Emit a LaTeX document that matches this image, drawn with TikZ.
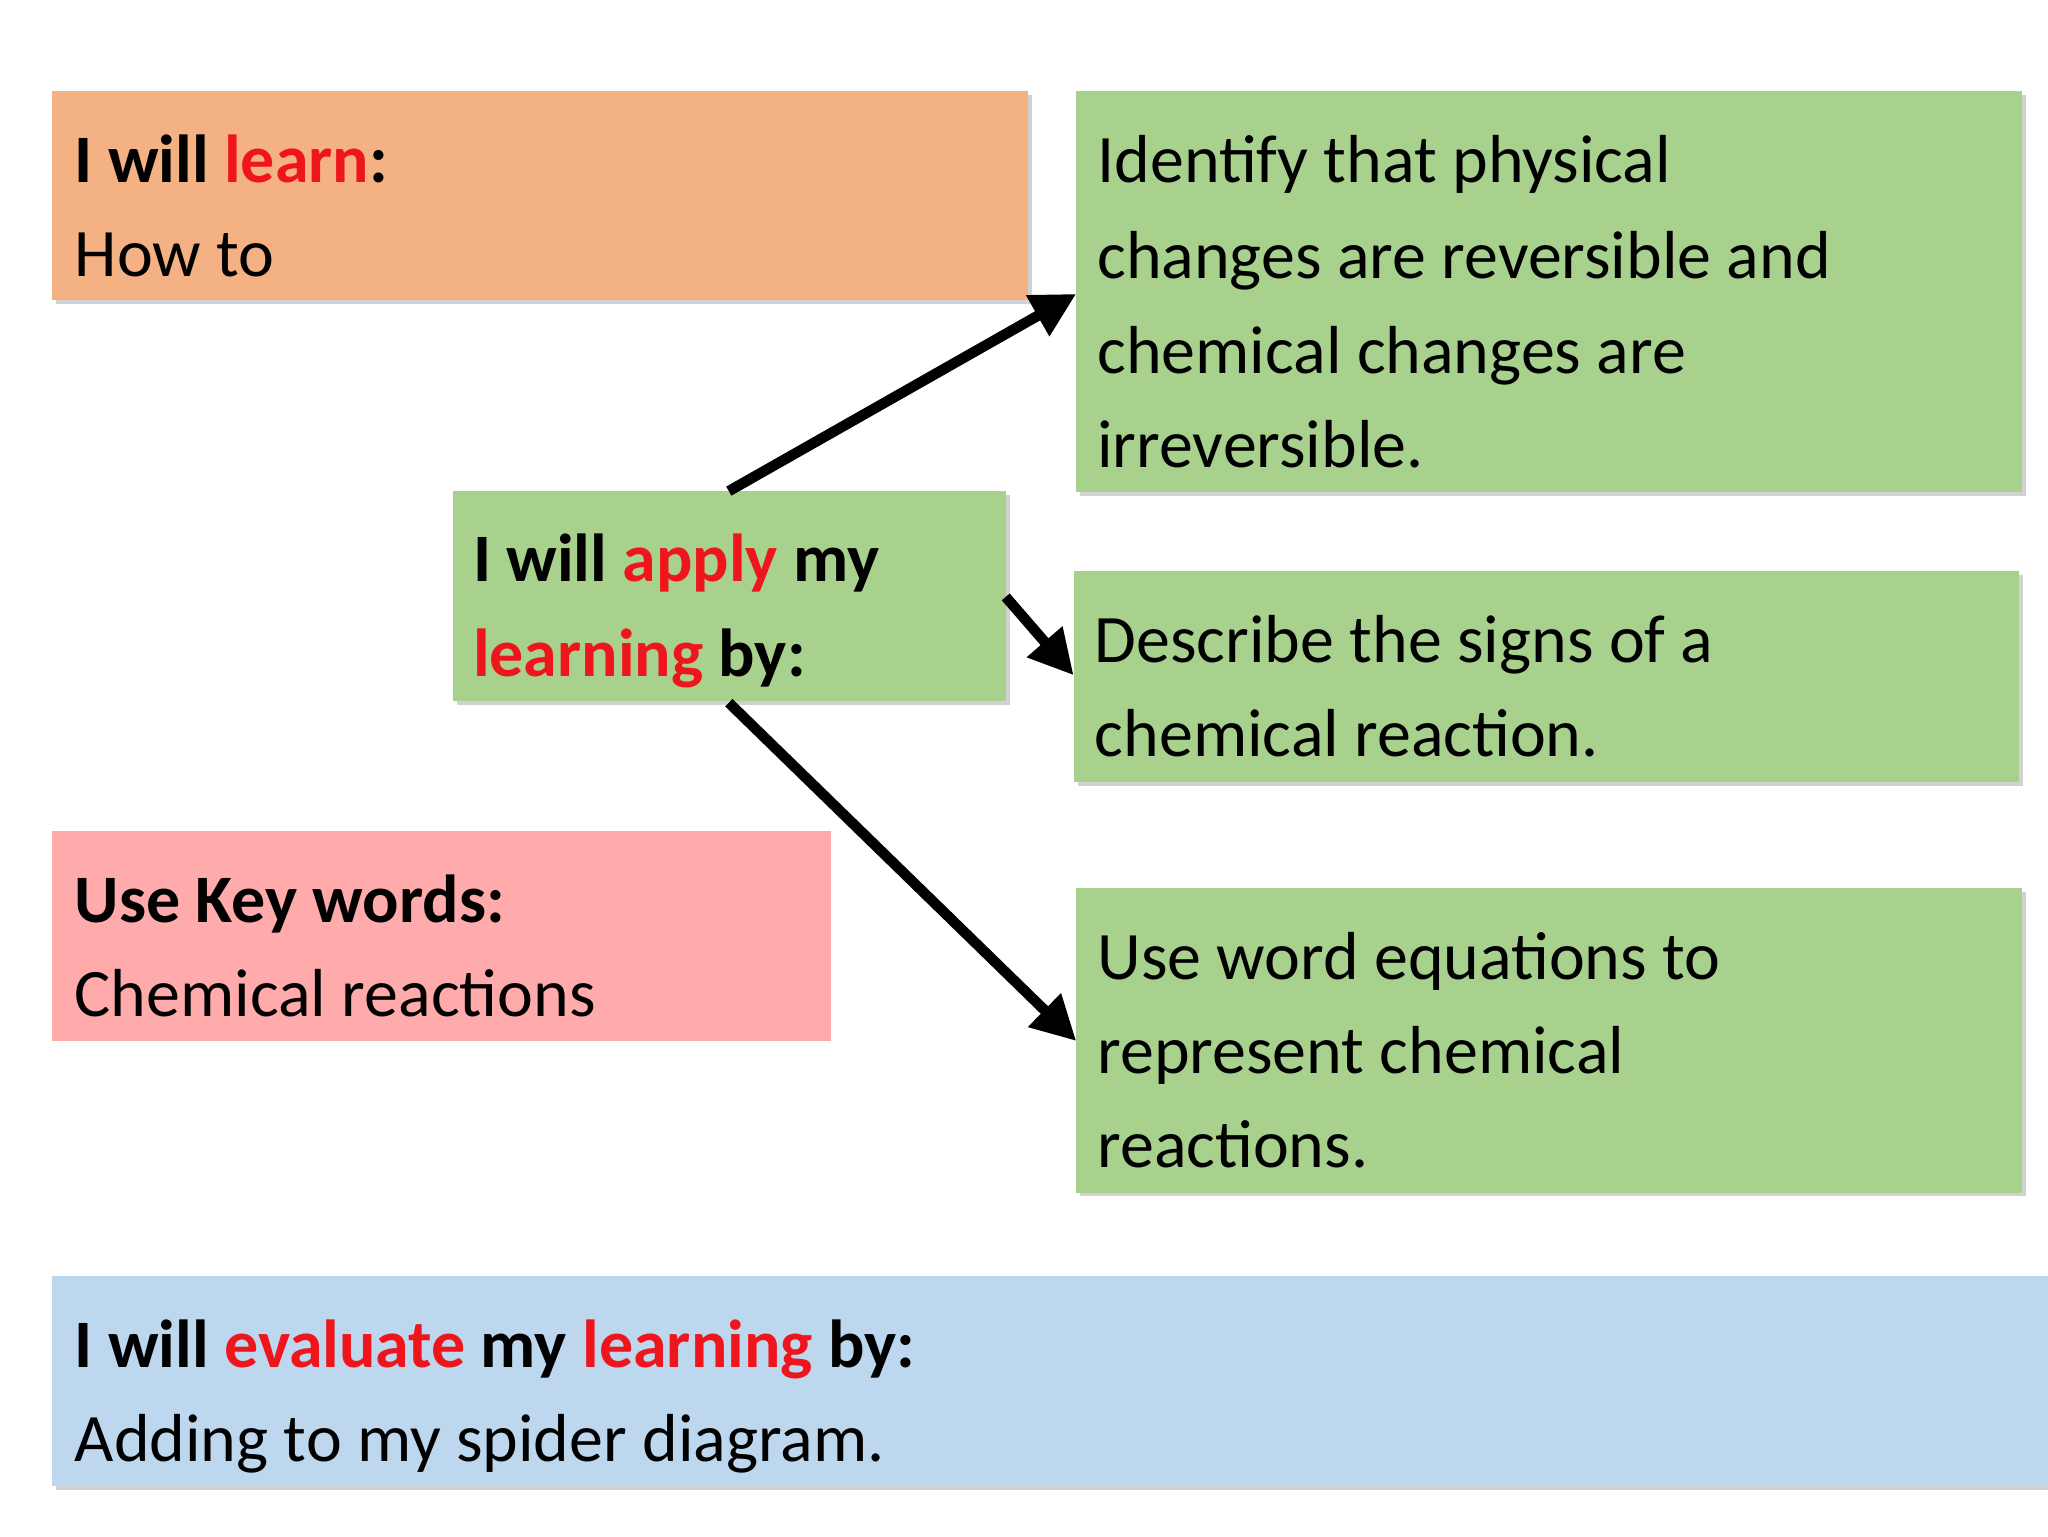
\documentclass[tikz,border=0pt]{standalone}
\usepackage{fontspec}
\setmainfont{Carlito}
\usetikzlibrary{shadows,arrows.meta}
\definecolor{org}{RGB}{244,177,131}
\definecolor{grn}{RGB}{169,209,142}
\definecolor{pnk}{RGB}{255,171,171}
\definecolor{blu}{RGB}{189,215,238}
\definecolor{hl}{RGB}{238,22,28}
\tikzset{
 box/.style={draw=none,drop shadow={shadow xshift=3pt,shadow yshift=-3pt,opacity=0.35,fill=gray}},
 txt/.style={anchor=base west,inner sep=0pt,font=\fontsize{52}{60}\selectfont},
 arr/.style={line width=8pt,-{Triangle[length=34pt,width=34pt]}}
}
\begin{document}
\begin{tikzpicture}[x=1pt,y=-1pt]
\useasboundingbox[fill=white] (0,0) rectangle (1568,1176);
\fill[org,box] (40,70) rectangle (787,230);
\fill[grn,box] (824,70) rectangle (1548,377);
\fill[grn,box] (347,376) rectangle (770,537);
\fill[grn,box] (822,437) rectangle (1546,599);
\fill[grn,box] (824,680) rectangle (1548,913);
\fill[pnk] (40,636) rectangle (636,797);
\fill[blu,box] (40,977) rectangle (1575,1138);
\node[txt] (l1) at (57,140) {\textbf{I will \textcolor{hl}{learn}:}};
\node[txt] (l2) at (57,212) {How to};
\node[txt] (g1) at (840,140) {Identify that physical};
\node[txt] (g2) at (840,213) {changes are reversible and};
\node[txt] (g3) at (840,286) {chemical changes are};
\node[txt] (g4) at (840,358) {irreversible.};
\node[txt] (m1) at (362,445) {\textbf{I will \textcolor{hl}{apply} my}};
\node[txt] (m2) at (362,518) {\textbf{\textcolor{hl}{learning} by:}};
\node[txt] (d1) at (838,507) {Describe the signs of a};
\node[txt] (d2) at (838,579) {chemical reaction.};
\node[txt] (w1) at (840,750) {Use word equations to};
\node[txt] (w2) at (840,822) {represent chemical};
\node[txt] (w3) at (840,894) {reactions.};
\node[txt] (k1) at (57,706) {\textbf{Use Key words:}};
\node[txt] (k2) at (57,778) {Chemical reactions};
\node[txt] (e1) at (57,1047) {\textbf{I will \textcolor{hl}{evaluate} my \textcolor{hl}{learning} by:}};
\node[txt] (e2) at (57,1119) {Adding to my spider diagram.};
\coordinate (a1s) at (558,376); \coordinate (a1e) at (824,225);
\coordinate (a2s) at (770,457); \coordinate (a2e) at (822,517);
\coordinate (a3s) at (558,538); \coordinate (a3e) at (824,797);
\draw[arr] (a1s) -- (a1e);
\draw[arr] (a2s) -- (a2e);
\draw[arr] (a3s) -- (a3e);
\end{tikzpicture}
\end{document}
